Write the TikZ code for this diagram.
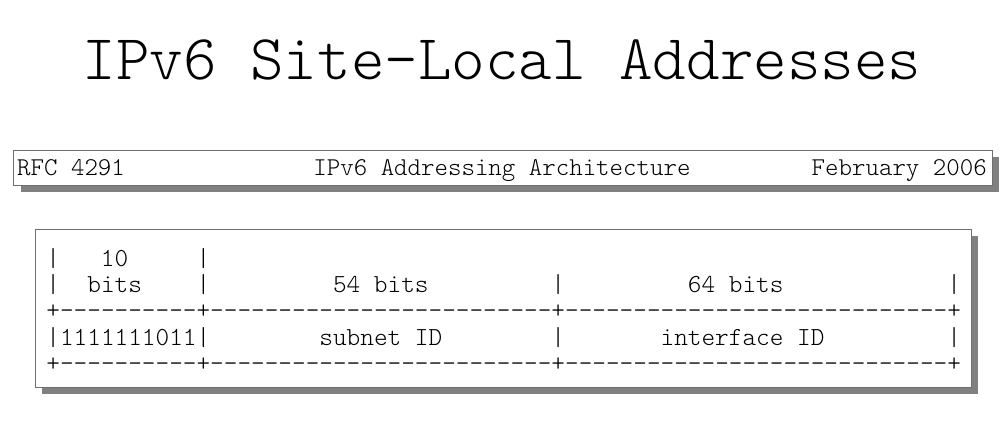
\documentclass[tikz,border=0pt]{standalone}
\usepackage{fontspec}
\setmonofont{Latin Modern Mono Light}
\definecolor{shadowgray}{HTML}{808080}
\definecolor{framegray}{HTML}{6E6E6E}
\tikzset{
  mono/.style={inner sep=0pt, anchor=base west, text=black, font=\ttfamily\fontsize{26.0}{30}\selectfont},
  monohead/.style={inner sep=0pt, anchor=base west, text=black, font=\ttfamily\fontsize{25.65}{30}\selectfont},
  frame/.style={draw=framegray, line width=0.9pt, fill=white},
  shadow/.style={fill=shadowgray, draw=none}
}
\begin{document}
\begin{tikzpicture}[x=1pt,y=-1pt]
\useasboundingbox (0,0) rectangle (1004,424);
% title
\node[inner sep=0pt, anchor=base, font=\ttfamily\fontsize{63.9}{70}\selectfont] (title) at (502,79) {IPv6 Site-Local Addresses};
% header box
\fill[shadow] (21,157) rectangle (999,192);
\draw[frame] (13,150) rectangle (992,185);
\node[monohead] (hdr) at (17,175) {RFC~4291~~~~~~~~~~~~~~IPv6~Addressing~Architecture~~~~~~~~~February~2006};
% format box
\fill[shadow] (42,236) rectangle (978,394);
\draw[frame] (35,229) rectangle (971,387);
\node[mono] (l1) at (46.2,266) {|~~~10~~~~~|};
\node[mono] (l2) at (46.2,292.5) {|~~bits~~~~|~~~~~~~~~54~bits~~~~~~~~~|~~~~~~~~~64~bits~~~~~~~~~~~~|};
\node[mono] (l3) at (46.2,318) {+----------+-------------------------+----------------------------+};
\node[mono] (l4) at (46.2,345) {|1111111011|~~~~~~~~subnet~ID~~~~~~~~|~~~~~~~interface~ID~~~~~~~~~|};
\node[mono] (l5) at (46.2,371.5) {+----------+-------------------------+----------------------------+};
\end{tikzpicture}
\end{document}
